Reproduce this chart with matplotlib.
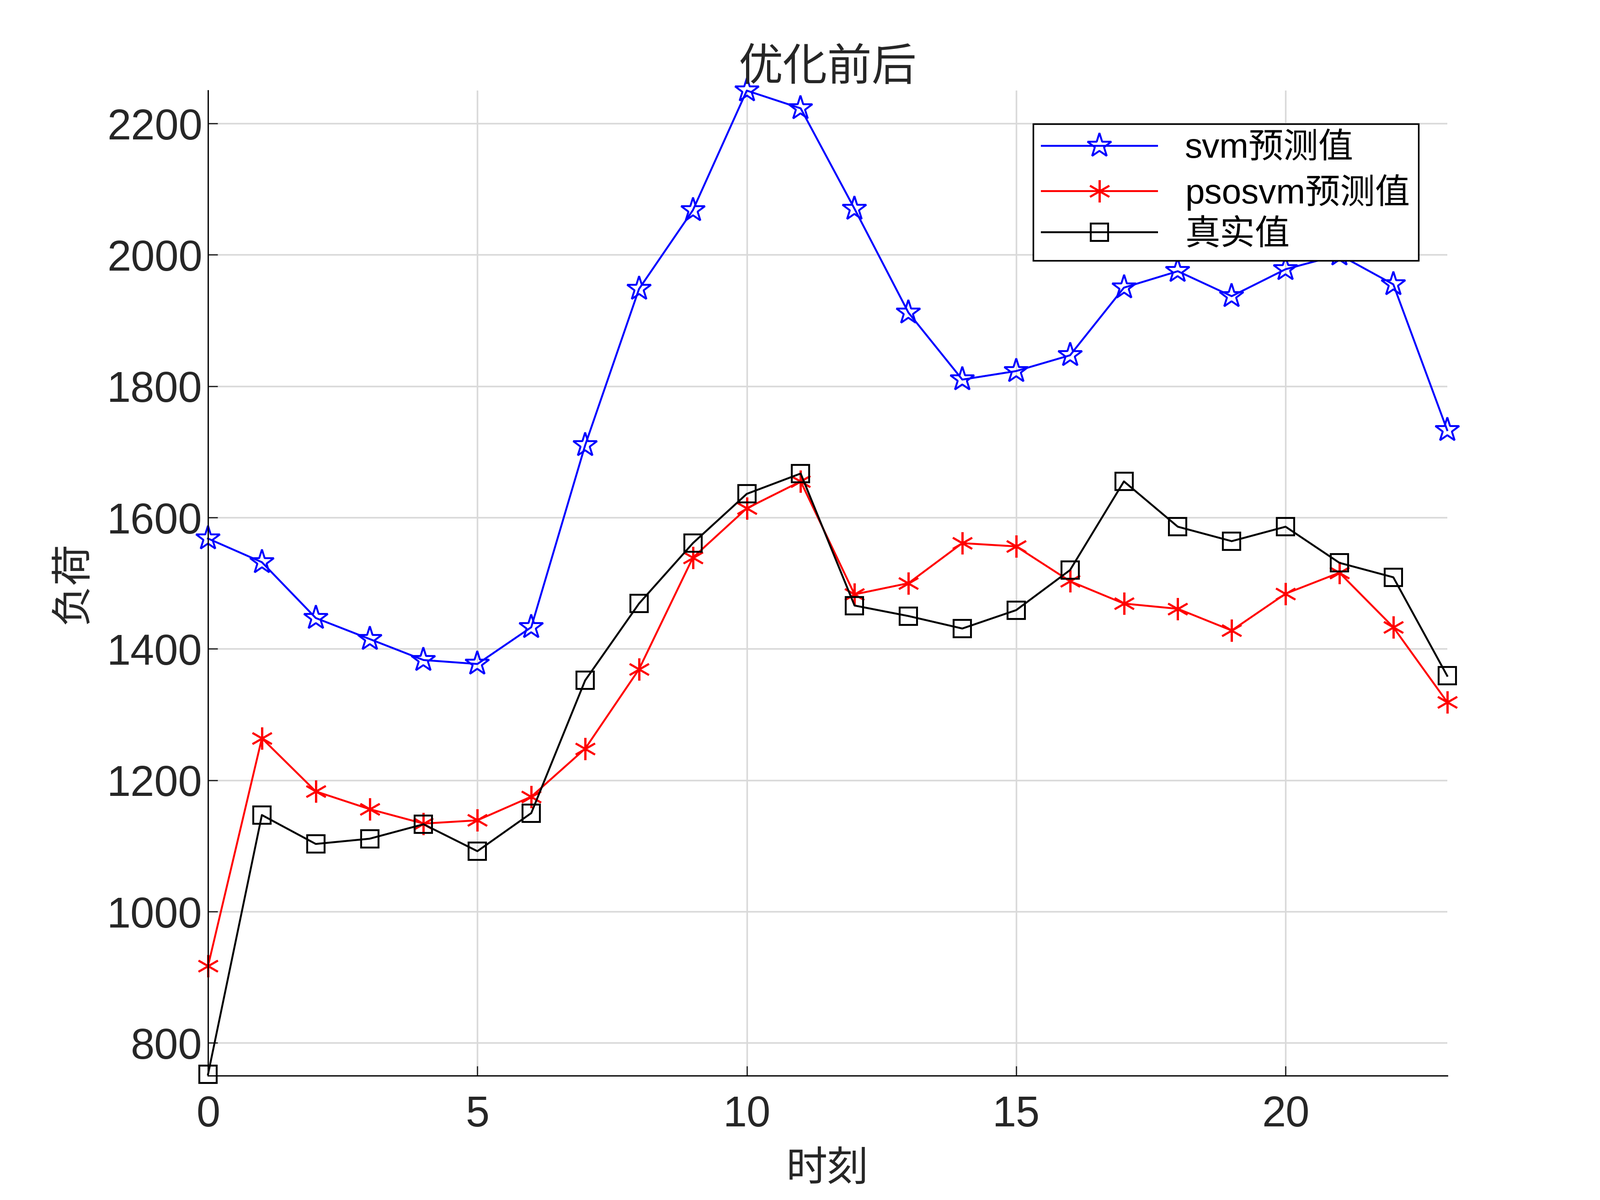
import glob
import numpy as np
import matplotlib.pyplot as plt
from matplotlib import font_manager

# find a CJK font file and register it
cjk_name = None
for f in font_manager.fontManager.ttflist:
    if "CJK" in f.name or "CJK" in f.fname:
        cjk_name = f.name
        if "SC" in f.name:
            break
if cjk_name is None:
    for path in glob.glob("/usr/share/fonts/**/*CJK*", recursive=True):
        try:
            font_manager.fontManager.addfont(path)
            cjk_name = font_manager.FontProperties(fname=path).get_name()
            break
        except Exception:
            pass
if cjk_name is None:
    cjk_name = "Noto Sans CJK SC"
plt.rcParams["font.family"] = ["Liberation Sans", cjk_name]

hours = np.arange(24)
svm_pred = [1568, 1532, 1447, 1415, 1383, 1377, 1433, 1710, 1948, 2068, 2250, 2223,
            2070, 1912, 1810, 1823, 1847, 1950, 1975, 1937, 1978, 2000, 1955, 1733]
psosvm_pred = [917, 1264, 1183, 1156, 1134, 1139, 1175, 1248, 1369, 1539, 1614, 1655,
               1483, 1500, 1561, 1556, 1503, 1469, 1461, 1428, 1484, 1516, 1433, 1319]
actual = [752, 1147, 1103, 1111, 1133, 1092, 1150, 1352, 1469, 1561, 1636, 1667,
          1466, 1450, 1431, 1459, 1520, 1655, 1586, 1564, 1586, 1531, 1509, 1359]

fig = plt.figure(figsize=(14, 10.5), dpi=250)
ax = fig.add_axes([0.130, 0.1035, 0.7745, 0.821])

ax.plot(hours, svm_pred, color="blue", lw=1.2, marker="*", ms=16, mfc="none", mew=1.2,
        label="svm预测值", clip_on=False)
ax.plot(hours, psosvm_pred, color="red", lw=1.2, marker=(6, 2, 0), ms=14, mew=1.2,
        label="psosvm预测值", clip_on=False)
ax.plot(hours, actual, color="black", lw=1.2, marker="s", ms=11, mfc="none", mew=1.2,
        label="真实值", clip_on=False)

ax.set_xlim(0, 23)
ax.set_ylim(750, 2250)
ax.set_xticks([0, 5, 10, 15, 20])
ax.set_yticks(range(800, 2201, 200))
ax.grid(True, color="#d9d9d9", lw=1)
for s in ["top", "right"]:
    ax.spines[s].set_visible(False)
ax.tick_params(labelsize=27, direction="in", length=6, colors="#262626")
ax.tick_params(axis="x", pad=12)
cjk_font = {"family": cjk_name}
ax.set_xlabel("时刻", fontsize=26, color="#262626", fontdict=cjk_font, labelpad=8)
ax.set_ylabel("负荷", fontsize=26, color="#262626", fontdict=cjk_font, labelpad=8)
ax.set_title("优化前后", fontsize=28, color="#262626", pad=0, fontdict=cjk_font)

leg = ax.legend(loc="upper right", bbox_to_anchor=(0.977, 0.966), fontsize=22,
                fancybox=False, edgecolor="black", framealpha=1, handlelength=3.3,
                borderaxespad=0, labelspacing=0.25, borderpad=0.25)
leg.get_frame().set_linewidth(1)

fig.savefig("out.png")
